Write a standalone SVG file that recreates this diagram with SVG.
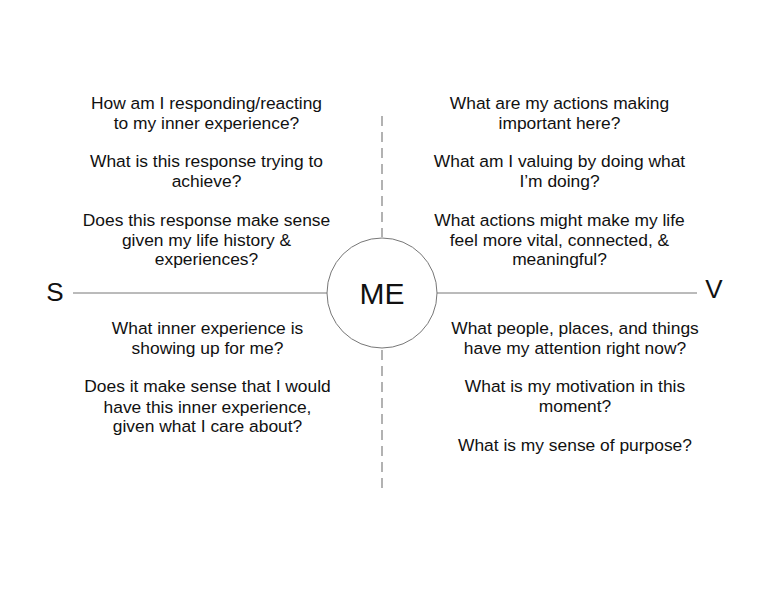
<svg xmlns="http://www.w3.org/2000/svg" width="768" height="594" viewBox="0 0 768 594">
<style>
.q{font-family:"Liberation Sans",Arial,sans-serif;font-size:17.4px;fill:#111;text-anchor:middle}
.big{font-family:"Liberation Sans",Arial,sans-serif;fill:#111;text-anchor:middle}
.ax{stroke:#777;stroke-width:1;fill:none}
.dash{stroke:#999;stroke-width:1.5;stroke-dasharray:10 6;fill:none}
</style>
<rect width="768" height="594" fill="#fff"/>
<g id="connectors">
<line class="ax" x1="73" y1="293" x2="327" y2="293"/>
<line class="ax" x1="437" y1="293" x2="697" y2="293"/>
<line class="dash" x1="382" y1="116" x2="382" y2="237"/>
<line class="dash" x1="382" y1="350" x2="382" y2="488"/>
</g>
<g id="me">
<circle cx="382" cy="293" r="55" fill="#fff" stroke="#777" stroke-width="1"/>
<text class="big" x="382" y="304" font-size="30">ME</text>
</g>
<g id="s"><text class="big" x="55" y="301" font-size="26">S</text></g>
<g id="v"><text class="big" x="714" y="298" font-size="26">V</text></g>
<g id="top-left">
<text class="q" x="206.5" y="109">How am I responding/reacting</text>
<text class="q" x="206.5" y="129">to my inner experience?</text>
<text class="q" x="206.5" y="167">What is this response trying to</text>
<text class="q" x="206.5" y="187">achieve?</text>
<text class="q" x="206.5" y="226">Does this response make sense</text>
<text class="q" x="206.5" y="246">given my life history &amp;</text>
<text class="q" x="206.5" y="265">experiences?</text>
</g>
<g id="top-right">
<text class="q" x="559.5" y="109">What are my actions making</text>
<text class="q" x="559.5" y="129">important here?</text>
<text class="q" x="559.5" y="167">What am I valuing by doing what</text>
<text class="q" x="559.5" y="187">I’m doing?</text>
<text class="q" x="559.5" y="226">What actions might make my life</text>
<text class="q" x="559.5" y="246">feel more vital, connected, &amp;</text>
<text class="q" x="559.5" y="265">meaningful?</text>
</g>
<g id="bottom-left">
<text class="q" x="207.5" y="334">What inner experience is</text>
<text class="q" x="207.5" y="354">showing up for me?</text>
<text class="q" x="207.5" y="392">Does it make sense that I would</text>
<text class="q" x="207.5" y="413">have this inner experience,</text>
<text class="q" x="207.5" y="432">given what I care about?</text>
</g>
<g id="bottom-right">
<text class="q" x="575" y="334">What people, places, and things</text>
<text class="q" x="575" y="354">have my attention right now?</text>
<text class="q" x="575" y="392">What is my motivation in this</text>
<text class="q" x="575" y="412">moment?</text>
<text class="q" x="575" y="451">What is my sense of purpose?</text>
</g>
</svg>
